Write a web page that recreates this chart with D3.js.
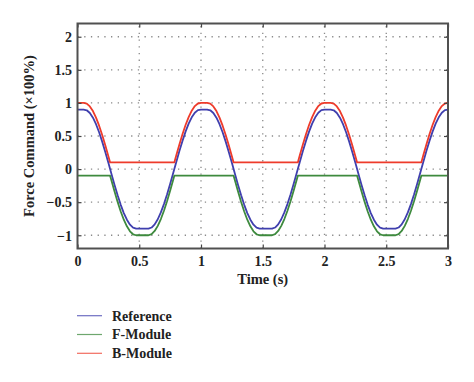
<!DOCTYPE html>
<html><head><meta charset="utf-8">
<script src="https://cdn.jsdelivr.net/npm/d3@7"></script>
<style>body{margin:0;background:#fff}svg{display:block}</style>
</head><body>
<svg id="c" width="474" height="382"></svg>
<script>
const time = [
0,0.025,0.05,0.075,0.1,0.125,0.15,0.175,0.2,0.225,0.25,0.264,0.275,0.3,0.325,0.35,0.375,0.4,0.425,0.45,0.475,0.5,0.525,0.55,0.575,0.6,0.625,0.65,0.675,0.7,0.725,0.75,0.775,0.784,0.8,0.825,0.85,0.875,0.9,0.925,0.95,0.975,
1,1.025,1.05,1.075,1.1,1.125,1.15,1.175,1.2,1.225,1.25,1.264,1.275,1.3,1.325,1.35,1.375,1.4,1.425,1.45,1.475,1.5,1.525,1.55,1.575,1.6,1.625,1.65,1.675,1.7,1.725,1.75,1.775,1.784,1.8,1.825,1.85,1.875,1.9,1.925,1.95,1.975,
2,2.025,2.05,2.075,2.1,2.125,2.15,2.175,2.2,2.225,2.25,2.264,2.275,2.3,2.325,2.35,2.375,2.4,2.425,2.45,2.475,2.5,2.525,2.55,2.575,2.6,2.625,2.65,2.675,2.7,2.725,2.75,2.775,2.784,2.8,2.825,2.85,2.875,2.9,2.925,2.95,2.975,
3];
const reference = [
0.9,0.9,0.9,0.889,0.847,0.776,0.678,0.556,0.415,0.259,0.094,0,-0.074,-0.239,-0.396,-0.54,-0.665,-0.765,-0.84,-0.885,-0.9,-0.9,-0.9,-0.9,-0.9,-0.883,-0.835,-0.758,-0.655,-0.529,-0.385,-0.226,-0.06,0,0.108,0.272,0.426,0.566,0.686,0.783,0.852,0.891,
0.9,0.9,0.9,0.889,0.847,0.776,0.678,0.556,0.415,0.259,0.094,0,-0.074,-0.239,-0.396,-0.54,-0.665,-0.765,-0.84,-0.885,-0.9,-0.9,-0.9,-0.9,-0.9,-0.883,-0.835,-0.758,-0.655,-0.529,-0.385,-0.226,-0.06,0,0.108,0.272,0.426,0.566,0.686,0.783,0.852,0.891,
0.9,0.9,0.9,0.889,0.847,0.776,0.678,0.556,0.415,0.259,0.094,0,-0.074,-0.239,-0.396,-0.54,-0.665,-0.765,-0.84,-0.885,-0.9,-0.9,-0.9,-0.9,-0.9,-0.883,-0.835,-0.758,-0.655,-0.529,-0.385,-0.226,-0.06,0,0.108,0.272,0.426,0.566,0.686,0.783,0.852,0.891,
0.9];
const fModule = [
-0.1,-0.1,-0.1,-0.1,-0.1,-0.1,-0.1,-0.1,-0.1,-0.1,-0.1,-0.1,-0.174,-0.339,-0.496,-0.64,-0.765,-0.865,-0.94,-0.985,-1,-1,-1,-1,-1,-0.983,-0.935,-0.858,-0.755,-0.629,-0.485,-0.326,-0.16,-0.1,-0.1,-0.1,-0.1,-0.1,-0.1,-0.1,-0.1,-0.1,
-0.1,-0.1,-0.1,-0.1,-0.1,-0.1,-0.1,-0.1,-0.1,-0.1,-0.1,-0.1,-0.174,-0.339,-0.496,-0.64,-0.765,-0.865,-0.94,-0.985,-1,-1,-1,-1,-1,-0.983,-0.935,-0.858,-0.755,-0.629,-0.485,-0.326,-0.16,-0.1,-0.1,-0.1,-0.1,-0.1,-0.1,-0.1,-0.1,-0.1,
-0.1,-0.1,-0.1,-0.1,-0.1,-0.1,-0.1,-0.1,-0.1,-0.1,-0.1,-0.1,-0.174,-0.339,-0.496,-0.64,-0.765,-0.865,-0.94,-0.985,-1,-1,-1,-1,-1,-0.983,-0.935,-0.858,-0.755,-0.629,-0.485,-0.326,-0.16,-0.1,-0.1,-0.1,-0.1,-0.1,-0.1,-0.1,-0.1,-0.1,
-0.1];
const bModule = [
1,1,1,0.989,0.947,0.876,0.778,0.656,0.515,0.359,0.194,0.1,0.1,0.1,0.1,0.1,0.1,0.1,0.1,0.1,0.1,0.1,0.1,0.1,0.1,0.1,0.1,0.1,0.1,0.1,0.1,0.1,0.1,0.1,0.208,0.372,0.526,0.666,0.786,0.883,0.952,0.991,
1,1,1,0.989,0.947,0.876,0.778,0.656,0.515,0.359,0.194,0.1,0.1,0.1,0.1,0.1,0.1,0.1,0.1,0.1,0.1,0.1,0.1,0.1,0.1,0.1,0.1,0.1,0.1,0.1,0.1,0.1,0.1,0.1,0.208,0.372,0.526,0.666,0.786,0.883,0.952,0.991,
1,1,1,0.989,0.947,0.876,0.778,0.656,0.515,0.359,0.194,0.1,0.1,0.1,0.1,0.1,0.1,0.1,0.1,0.1,0.1,0.1,0.1,0.1,0.1,0.1,0.1,0.1,0.1,0.1,0.1,0.1,0.1,0.1,0.208,0.372,0.526,0.666,0.786,0.883,0.952,0.991,
1];
const xTicks = [0,0.5,1,1.5,2,2.5,3];
const yTicks = [-1,-0.5,0,0.5,1,1.5,2];
const seriesNames = ["Reference","F-Module","B-Module"];
const seriesColors = ["#3f3fae","#3e8a3e","#ee3b2b"];

const m = {l:77.5, r:448, t:23.5, b:248.5};
const x = d3.scaleLinear().domain([0,3]).range([m.l,m.r]);
const y = d3.scaleLinear().domain([-1.2,2.2]).range([m.b,m.t]);
const svg = d3.select("#c");
const font = "'Liberation Serif','Times New Roman',serif";
const fmt = d => d < 0 ? "\u2212" + Math.abs(d) : String(d);

// grid
const grid = svg.append("g").attr("stroke","#8a8a8a").attr("stroke-width",1.3).attr("stroke-dasharray","1.3,5.4");
grid.selectAll("line.gx").data(xTicks.slice(1,-1)).join("line").attr("class","gx")
  .attr("x1",d=>x(d)).attr("x2",d=>x(d)).attr("y1",m.b).attr("y2",m.t);
grid.selectAll("line.gy").data(yTicks).join("line").attr("class","gy")
  .attr("y1",d=>y(d)).attr("y2",d=>y(d)).attr("x1",m.l).attr("x2",m.r);

// series
const series = [reference, fModule, bModule];
const line = d3.line().x((d,i)=>x(time[i])).y(d=>y(d));
svg.append("g").selectAll("path").data(series).join("path")
  .attr("d", line).attr("fill","none")
  .attr("stroke",(d,i)=>seriesColors[i]).attr("stroke-width",1.8)
  .attr("stroke-linejoin","round");

// axes
const axB = svg.append("g").attr("transform",`translate(0,${m.b})`)
  .call(d3.axisBottom(x).tickValues(xTicks).tickSize(-4).tickFormat(fmt));
const axL = svg.append("g").attr("transform",`translate(${m.l},0)`)
  .call(d3.axisLeft(y).tickValues(yTicks).tickSize(-4).tickFormat(fmt));
const axT = svg.append("g").attr("transform",`translate(0,${m.t})`)
  .call(d3.axisTop(x).tickValues(xTicks).tickSize(-4).tickFormat(""));
const axR = svg.append("g").attr("transform",`translate(${m.r},0)`)
  .call(d3.axisRight(y).tickValues(yTicks).tickSize(-4).tickFormat(""));
[axB,axL,axT,axR].forEach(a=>{
  a.select(".domain").remove();
  a.selectAll(".tick line").attr("stroke","#444").attr("stroke-width",1.2);
  a.selectAll("text").attr("font-family",font).attr("font-weight","bold")
    .attr("font-size",14).attr("fill","#222");
});
axB.selectAll("text").attr("y",17.5).attr("dy",0);
axL.selectAll("text").attr("x",-5.5).attr("dy","0.34em");

// frame
svg.append("rect").attr("x",m.l).attr("y",m.t).attr("width",m.r-m.l).attr("height",m.b-m.t)
  .attr("fill","none").attr("stroke","#505050").attr("stroke-width",2);

// titles
svg.append("text").attr("x",(m.l+m.r)/2).attr("y",283.5).attr("text-anchor","middle")
  .attr("font-family",font).attr("font-weight","bold").attr("font-size",14.5).attr("fill","#222")
  .text("Time (s)");
svg.append("text").attr("transform",`translate(34,${(m.t+m.b)/2}) rotate(-90)`)
  .attr("text-anchor","middle")
  .attr("font-family",font).attr("font-weight","bold").attr("font-size",14.5).attr("fill","#222")
  .text("Force Command (\u00d7100%)");

// legend
const leg = svg.append("g").selectAll("g").data(seriesNames).join("g")
  .attr("transform",(d,i)=>`translate(77,${315.7 + i*18.8})`);
leg.append("line").attr("x1",0).attr("x2",25).attr("y1",0).attr("y2",0)
  .attr("stroke",(d,i)=>seriesColors[i]).attr("stroke-width",1.2).attr("opacity",0.75);
leg.append("text").attr("x",35).attr("y",4.8)
  .attr("font-family",font).attr("font-weight","bold").attr("font-size",14).attr("fill","#222")
  .text(d=>d);
</script>
</body></html>
